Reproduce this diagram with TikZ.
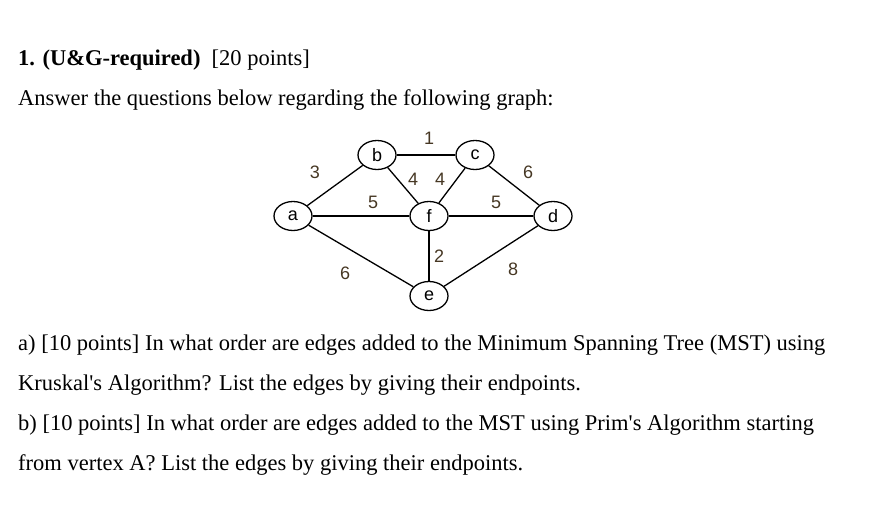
\documentclass[tikz,border=0pt]{standalone}
\usepackage{fontspec}
\setmainfont{Liberation Serif}
\newfontfamily\arial{Liberation Sans}
\usetikzlibrary{shapes.geometric}
\definecolor{lbl}{RGB}{70,55,35}
\begin{document}
\begin{tikzpicture}[x=1pt,y=-1pt,
  vtx/.style={ellipse,draw,line width=1.3pt,minimum width=38pt,minimum height=29pt,inner sep=0pt,font=\arial\fontsize{18}{20}\selectfont},
  edge/.style={line width=1.3pt},
  wt/.style={font=\arial\fontsize{18}{20}\selectfont,text=lbl},
  txt/.style={anchor=base west,inner sep=0pt,font=\fontsize{22.5}{26}\selectfont}]
\useasboundingbox[fill=white] (0,0) rectangle (896,512);
\node[txt] (t1) at (18,65) {\textbf{1. (U\&G-required)}\ \ [20 points]};
\node[txt] (t2) at (18,105) {Answer the questions below regarding the following graph:};
\node[vtx] (a) at (293,216) {a};
\node[vtx] (b) at (377,155) {b};
\node[vtx] (c) at (475,155) {c};
\node[vtx] (f) at (429,216) {f};
\node[vtx] (d) at (553,216) {d};
\node[vtx] (e) at (429,296) {e};
\draw[edge] (a) -- (b);
\draw[edge] (b) -- (c);
\draw[edge] (b) -- (f);
\draw[edge] (c) -- (f);
\draw[edge] (c) -- (d);
\draw[edge] (a) -- (f);
\draw[edge] (f) -- (d);
\draw[edge] (f) -- (e);
\draw[edge] (a) -- (e);
\draw[edge] (e) -- (d);
\node[wt] (w1) at (429,138) {1};
\node[wt] (w2) at (315,172) {3};
\node[wt] (w3) at (413,179) {4};
\node[wt] (w4) at (440,179) {4};
\node[wt] (w5) at (528,172) {6};
\node[wt] (w6) at (373,202) {5};
\node[wt] (w7) at (496,202) {5};
\node[wt] (w8) at (439,256) {2};
\node[wt] (w9) at (345,273) {6};
\node[wt] (w10) at (513,269) {8};
\node[txt] (q1) at (18,350) {a) [10 points] In what order are edges added to the Minimum Spanning Tree (MST) using};
\node[txt] (q2) at (18,390) {Kruskal\textquotesingle s Algorithm? List the edges by giving their endpoints.};
\node[txt] (q3) at (18,430) {b) [10 points] In what order are edges added to the MST using Prim\textquotesingle s Algorithm starting};
\node[txt] (q4) at (18,470) {from vertex A? List the edges by giving their endpoints.};
\end{tikzpicture}
\end{document}
